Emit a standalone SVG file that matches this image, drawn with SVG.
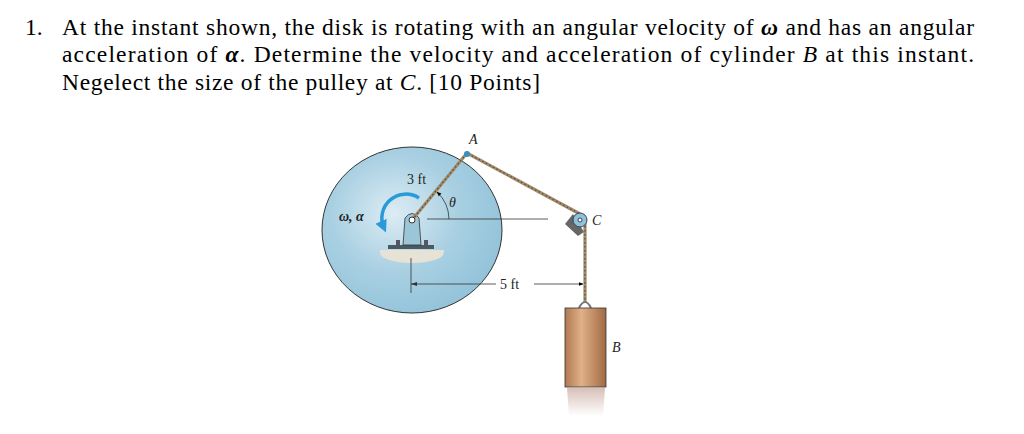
<svg xmlns="http://www.w3.org/2000/svg" width="1024" height="434" viewBox="0 0 1024 434">
<defs>
<radialGradient id="dg" cx="0.4" cy="0.4" r="0.7"><stop offset="0" stop-color="#dcecf4"/><stop offset="0.5" stop-color="#a9d0e2"/><stop offset="1" stop-color="#8ec0d8"/></radialGradient>
<linearGradient id="cg" x1="0" x2="1"><stop offset="0" stop-color="#b07850"/><stop offset="0.4" stop-color="#e0b088"/><stop offset="1" stop-color="#a06a42"/></linearGradient>
<linearGradient id="sg" x1="0" y1="0" x2="0" y2="1"><stop offset="0" stop-color="#d8c0b8"/><stop offset="1" stop-color="#fff"/></linearGradient>
<marker id="ah" viewBox="0 0 10 10" refX="9" refY="5" markerWidth="6" markerHeight="6" orient="auto"><path d="M0,1 L10,5 L0,9z" fill="#000"/></marker>
<marker id="bh" viewBox="0 0 10 10" refX="6" refY="5" markerWidth="3.5" markerHeight="3.5" orient="auto"><path d="M0,0 L10,5 L0,10z" fill="#2a9ad8"/></marker>
</defs>
<style>
.t{font-family:"Liberation Serif",serif;font-size:23.5px;fill:#000}
.l{font-family:"Liberation Serif",serif;font-size:14px;fill:#222}
.i{font-style:italic}
.rope{stroke:#a08a6a;stroke-width:3.2;fill:none}
.rd{stroke:#5a4a38;stroke-width:1.2;fill:none;stroke-dasharray:1.5 2.5}
</style>
<text class="t" x="25" y="35">1.</text>
<text class="t" x="62" y="35" textLength="912" lengthAdjust="spacing">At the instant shown, the disk is rotating with an angular velocity of <tspan font-weight="bold" font-style="italic">ω</tspan> and has an angular</text>
<text class="t" x="62" y="62" textLength="912" lengthAdjust="spacing">acceleration of <tspan font-weight="bold" font-style="italic">α</tspan>. Determine the velocity and acceleration of cylinder <tspan class="i">B</tspan> at this instant.</text>
<text class="t" x="62" y="90" textLength="478" lengthAdjust="spacing">Negelect the size of the pulley at <tspan class="i">C</tspan>. [10 Points]</text>
<g id="disk">
<ellipse cx="412" cy="230" rx="90" ry="83" fill="url(#dg)" stroke="#333" stroke-width="1"/>
<path d="M380,250 L444,250 Q446,262 412,263 Q378,262 380,250z" fill="#e6e2d6"/>
<rect x="388" y="245" width="46" height="4" fill="#4a5a60"/>
<path d="M403,245 L405,218 Q412,209 419,218 L421,245z" fill="#9cc6d8" stroke="#333" stroke-width="0.8"/>
<rect x="396" y="240" width="4" height="5" fill="#556"/><rect x="424" y="240" width="4" height="5" fill="#556"/>
<path d="M419,198 A24,24 0 0,0 384,228" fill="none" stroke="#2a9ad8" stroke-width="3.5" marker-end="url(#bh)"/>
</g>
<g id="connectors">
<path d="M412,220 L467,153 L580,214 M585,222 L585,303" class="rope"/>
<path d="M412,220 L467,153 L580,214 M585,222 L585,303" class="rd"/>
<circle cx="412" cy="220" r="3" fill="#fff" stroke="#333"/>
<line x1="427" y1="219" x2="548" y2="219" stroke="#333" stroke-width="0.8"/>
<path d="M449,219 A38,38 0 0,0 437,192" fill="none" stroke="#333" stroke-width="0.8" marker-end="url(#ah)"/>
<line x1="411" y1="258" x2="411" y2="293" stroke="#333" stroke-width="0.8"/>
<line x1="411" y1="284" x2="496" y2="284" stroke="#333" stroke-width="0.8"/>
<line x1="534" y1="284" x2="583" y2="284" stroke="#333" stroke-width="0.8" marker-end="url(#ah)"/>
<path d="M411,284 l6,-2 v4z" fill="#333"/>
</g>
<g id="A"><circle cx="467" cy="154" r="3" fill="#3a8ec0"/><text class="l i" x="469" y="144">A</text></g>
<g id="C">
<path d="M565,224 L573,214 L584,232 L578,236z" fill="#666"/>
<circle cx="580" cy="220" r="7" fill="#8ec0d8" stroke="#345" stroke-width="1"/>
<circle cx="580" cy="220" r="2" fill="#fff" stroke="#345"/>
<text class="l i" x="592" y="225">C</text>
</g>
<g id="B">
<path d="M579,308 Q585,296 591,308" fill="none" stroke="#777" stroke-width="2"/>
<path d="M567,388 h38 l-2,28 h-34z" fill="url(#sg)"/>
<rect x="565" y="308" width="41" height="79" fill="url(#cg)" stroke="#333" stroke-width="0.8"/>
<text class="l i" x="612" y="352">B</text>
</g>
<text class="l" x="407" y="184">3 ft</text>
<text class="l i" x="449" y="207">θ</text>
<text class="l i" x="339" y="221" font-weight="bold">ω, α</text>
<text class="l" x="500" y="289">5 ft</text>
</svg>
